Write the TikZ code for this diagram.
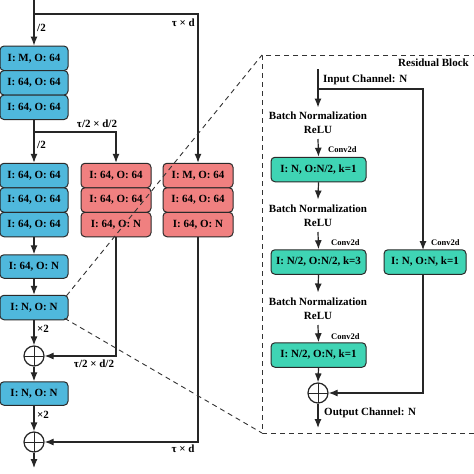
\documentclass[tikz,border=0pt]{standalone}
\usepackage{fontspec}
\setmainfont{Liberation Serif}
\usetikzlibrary{arrows.meta}
\definecolor{bluebox}{HTML}{4FB8DC}
\definecolor{redbox}{HTML}{F08080}
\definecolor{tealbox}{HTML}{3FD4B4}
\definecolor{edge}{HTML}{2A2A2A}
\begin{document}
\begin{tikzpicture}[x=1pt,y=-1pt,
  font=\bfseries\fontsize{11}{12}\selectfont,
  box/.style={draw=edge,line width=1pt,rounded corners=4pt,inner sep=0pt,minimum height=24.5pt},
  bbox/.style={box,fill=bluebox,minimum width=68pt},
  rbox/.style={box,fill=redbox,minimum width=70pt},
  tbox/.style={box,fill=tealbox,minimum width=95pt},
  arr/.style={line width=1.2pt,draw=black!85,-{Latex[length=9pt,width=7pt]}},
  ln/.style={line width=1.2pt,draw=black!85},
  lbl/.style={font=\bfseries\fontsize{11}{12}\selectfont,inner sep=0pt},
  small/.style={font=\bfseries\fontsize{8.5}{9}\selectfont,inner sep=0pt},
  txt/.style={inner sep=0pt,align=center},
  oplus/.style={circle,draw=black!85,line width=1.2pt,minimum size=20pt,inner sep=0pt,
    path picture={\draw[line width=1pt] (path picture bounding box.north) -- (path picture bounding box.south)
      (path picture bounding box.west) -- (path picture bounding box.east);}},
  zoomln/.style={line width=0.9pt,dashed,dash pattern=on 5pt off 4pt,draw=black!80}
]
\useasboundingbox (0,0) rectangle (474,474);
\fill[white] (0,0) rectangle (474,474);

% ---------- left column ----------
\coordinate (top) at (34,0);
\node[bbox] (b1) at (34,58.3) {I: M, O: 64};
\node[bbox] (b2) at (34,82.8) {I: 64, O: 64};
\node[bbox] (b3) at (34,107.3) {I: 64, O: 64};

\node[bbox] (b4) at (34,175.5) {I: 64, O: 64};
\node[bbox] (b5) at (34,200) {I: 64, O: 64};
\node[bbox] (b6) at (34,224.5) {I: 64, O: 64};

\node[rbox] (r1a) at (116,175.5) {I: 64, O: 64};
\node[rbox] (r1b) at (116,200) {I: 64, O: 64};
\node[rbox] (r1c) at (116,224.5) {I: 64, O: N};

\node[rbox] (r2a) at (198,175.5) {I: M, O: 64};
\node[rbox] (r2b) at (198,200) {I: 64, O: 64};
\node[rbox] (r2c) at (198,224.5) {I: 64, O: N};

\node[bbox,minimum height=23.5pt] (b7) at (34,266.5) {I: 64, O: N};
\node[bbox] (b8) at (34,307.5) {I: N, O: N};
\node[oplus] (c1) at (34,356) {};
\node[bbox,minimum height=23.5pt] (b9) at (34,393.5) {I: N, O: N};
\node[oplus] (c2) at (34,442) {};
\coordinate (out) at (34,468);

\coordinate (br1) at (34,14);
\coordinate (br2) at (34,132);

\draw[arr] (top) -- (b1.north);
\draw[arr] (br1) -| (r2a.north);
\draw[ln] (b3.south) -- (br2);
\draw[arr] (br2) -- (b4.north);
\draw[arr] (br2) -| (r1a.north);
\draw[arr] (b6.south) -- (b7.north);
\draw[arr] (b7.south) -- (b8.north);
\draw[arr] (b8.south) -- (c1.north);
\draw[arr] (c1.south) -- (b9.north);
\draw[arr] (b9.south) -- (c2.north);
\draw[arr] (c2.south) -- (out);
\draw[arr] (r1c.south) |- (c1.east);
\draw[arr] (r2c.south) |- (c2.east);

\node[lbl,anchor=west] (l1) at (37,28) {/2};
\node[lbl,anchor=east] (l2) at (195,23) {τ × d};
\node[lbl] (l3) at (97,124) {τ/2 × d/2};
\node[lbl,anchor=west] (l4) at (37,145) {/2};
\node[lbl,anchor=west] (l5) at (37,329) {×2};
\node[lbl] (l6) at (94,364) {τ/2 × d/2};
\node[lbl,anchor=west] (l7) at (37,415) {×2};
\node[lbl] (l8) at (183,449) {τ × d};

% ---------- zoom lines and residual frame ----------
\coordinate (zt) at (262,55);
\coordinate (zb) at (262,433);
\draw[zoomln] (b8.north east) ++(-2,1) -- (zt);
\draw[zoomln] (b8.south east) ++(-4,-2) -- (zb);
\draw[zoomln] (478,55) -- (zt) -- (zb) -- (478,433);

\node[lbl,anchor=east] (title) at (469,63) {Residual Block};

\coordinate (in) at (318,69);
\coordinate (br3) at (318,89);
\node[lbl,anchor=west] (inl) at (323,80) {Input Channel: N};

\node[txt] (bn1) at (318,116) {Batch Normalization};
\node[txt] (re1) at (318,130) {ReLU};
\node[tbox] (t1) at (318.5,169.5) {I: N, O:N/2, k=1};
\node[small,anchor=west] (cv1) at (328,150) {Conv2d};

\node[txt] (bn2) at (318,209) {Batch Normalization};
\node[txt] (re2) at (318,223) {ReLU};
\node[tbox] (t2) at (318.5,262) {I: N/2, O:N/2, k=3};
\node[small,anchor=west] (cv2) at (331,243) {Conv2d};

\node[tbox,minimum width=82pt] (t4) at (425,262) {I: N, O:N, k=1};
\node[small,anchor=west] (cv4) at (431,243) {Conv2d};

\node[txt] (bn3) at (318,302) {Batch Normalization};
\node[txt] (re3) at (318,316) {ReLU};
\node[tbox] (t3) at (318.5,355) {I: N/2, O:N, k=1};
\node[small,anchor=west] (cv3) at (331,337) {Conv2d};

\node[oplus] (c3) at (318,393) {};
\coordinate (rout) at (318,428);
\node[lbl,anchor=west] (outl) at (324,413) {Output Channel: N};

\draw[arr] (in) -- (318,107.5);
\draw[arr] (br3) -| (423,250);
\draw[arr] (318,139) -- (t1.north);
\draw[arr] (t1.south) -- (318,199.5);
\draw[arr] (318,232) -- (t2.north);
\draw[arr] (t2.south) -- (318,292.5);
\draw[arr] (318,325) -- (t3.north);
\draw[arr] (t3.south) -- (c3.north);
\draw[arr] (423,274.2) |- (c3.east);
\draw[arr] (c3.south) -- (rout);
\end{tikzpicture}
\end{document}
